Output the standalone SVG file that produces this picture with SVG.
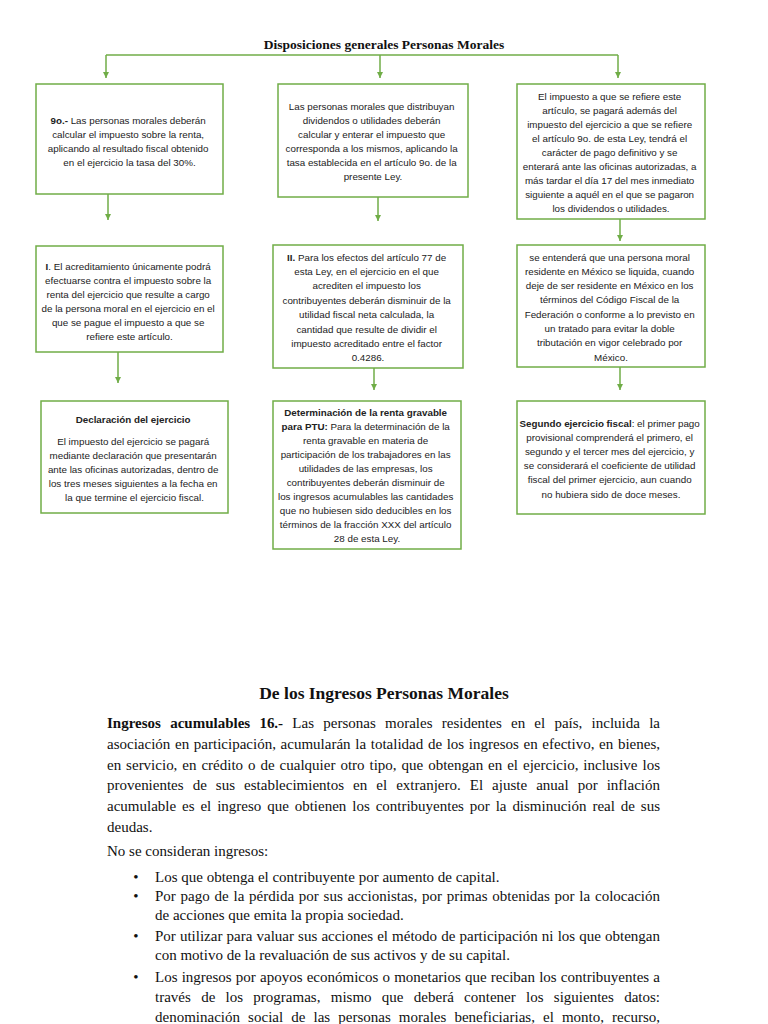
<svg xmlns="http://www.w3.org/2000/svg" width="768" height="1024" viewBox="0 0 768 1024">
<defs>
<style>
.box{fill:#fff;stroke:#70AD47;stroke-width:1.5}
.t{font-family:"Liberation Sans",Arial,sans-serif;font-size:9.8px;fill:#222;text-anchor:middle}
.b{font-weight:bold}
.ln{stroke:#70AD47;stroke-width:1.5;fill:none}
.s{font-family:"Liberation Serif","Times New Roman",serif;fill:#111}
.p{font-size:15px}
</style>
<marker id="ah" markerWidth="6" markerHeight="6" refX="6" refY="3" orient="auto" markerUnits="userSpaceOnUse">
<path d="M0,0 L6,3 L0,6 z" fill="#70AD47"/>
</marker>
</defs>
<rect width="768" height="1024" fill="#fff"/>

<g id="title">
<text class="s b" x="384" y="49" font-size="13.5" text-anchor="middle">Disposiciones generales Personas Morales</text>
</g>

<g id="connectors">
<path class="ln" d="M106,55 H618"/>
<path class="ln" d="M106,55 V78" marker-end="url(#ah)"/>
<path class="ln" d="M380,55 V78" marker-end="url(#ah)"/>
<path class="ln" d="M618,55 V78" marker-end="url(#ah)"/>
<path class="ln" d="M108,194 V220" marker-end="url(#ah)"/>
<path class="ln" d="M378,197 V221" marker-end="url(#ah)"/>
<path class="ln" d="M620,219 V241" marker-end="url(#ah)"/>
<path class="ln" d="M118,352 V383" marker-end="url(#ah)"/>
<path class="ln" d="M374,368 V390" marker-end="url(#ah)"/>
<path class="ln" d="M620,367 V390" marker-end="url(#ah)"/>
</g>

<g id="n1">
<rect class="box" x="36" y="84" width="187" height="110"/>
<text class="t">
<tspan x="129.5" y="123.5"><tspan class="b">9o.-</tspan> Las personas morales deberán</tspan>
<tspan x="129.5" y="137.5">calcular el impuesto sobre la renta,</tspan>
<tspan x="129.5" y="151.5">aplicando al resultado fiscal obtenido</tspan>
<tspan x="129.5" y="165.5">en el ejercicio la tasa del 30%.</tspan>
</text>
</g>

<g id="n2">
<rect class="box" x="278" y="84" width="190" height="113"/>
<text class="t">
<tspan x="373" y="109.5">Las personas morales que distribuyan</tspan>
<tspan x="373" y="123.5">dividendos o utilidades deberán</tspan>
<tspan x="373" y="137.5">calcular y enterar el impuesto que</tspan>
<tspan x="373" y="151.5">corresponda a los mismos, aplicando la</tspan>
<tspan x="373" y="165.5">tasa establecida en el artículo 9o. de la</tspan>
<tspan x="373" y="179.5">presente Ley.</tspan>
</text>
</g>

<g id="n3">
<rect class="box" x="517" y="84" width="188" height="135"/>
<text class="t">
<tspan x="611" y="99.5">El impuesto a que se refiere este</tspan>
<tspan x="611" y="113.5">artículo, se pagará además del</tspan>
<tspan x="611" y="127.5">impuesto del ejercicio a que se refiere</tspan>
<tspan x="611" y="141.5">el artículo 9o. de esta Ley, tendrá el</tspan>
<tspan x="611" y="155.5">carácter de pago definitivo y se</tspan>
<tspan x="611" y="169.5">enterará ante las oficinas autorizadas, a</tspan>
<tspan x="611" y="183.5">más tardar el día 17 del mes inmediato</tspan>
<tspan x="611" y="197.5">siguiente a aquél en el que se pagaron</tspan>
<tspan x="611" y="211.5">los dividendos o utilidades.</tspan>
</text>
</g>

<g id="n4">
<rect class="box" x="36" y="246" width="187" height="106"/>
<text class="t">
<tspan x="129.5" y="269.5"><tspan class="b">I</tspan>. El acreditamiento únicamente podrá</tspan>
<tspan x="129.5" y="283.5">efectuarse contra el impuesto sobre la</tspan>
<tspan x="129.5" y="297.5">renta del ejercicio que resulte a cargo</tspan>
<tspan x="129.5" y="311.5">de la persona moral en el ejercicio en el</tspan>
<tspan x="129.5" y="325.5">que se pague el impuesto a que se</tspan>
<tspan x="129.5" y="339.5">refiere este artículo.</tspan>
</text>
</g>

<g id="n5">
<rect class="box" x="273" y="245" width="190" height="123"/>
<text class="t">
<tspan x="368" y="260.5"><tspan class="b">II.</tspan> Para los efectos del artículo 77 de</tspan>
<tspan x="368" y="274.9">esta Ley, en el ejercicio en el que</tspan>
<tspan x="368" y="289.3">acrediten el impuesto los</tspan>
<tspan x="368" y="303.7">contribuyentes deberán disminuir de la</tspan>
<tspan x="368" y="318.1">utilidad fiscal neta calculada, la</tspan>
<tspan x="368" y="332.5">cantidad que resulte de dividir el</tspan>
<tspan x="368" y="346.9">impuesto acreditado entre el factor</tspan>
<tspan x="368" y="361.3">0.4286.</tspan>
</text>
</g>

<g id="n6">
<rect class="box" x="517" y="245" width="188" height="122"/>
<text class="t">
<tspan x="611" y="260.5">se entenderá que una persona moral</tspan>
<tspan x="611" y="274.8">residente en México se liquida, cuando</tspan>
<tspan x="611" y="289.1">deje de ser residente en México en los</tspan>
<tspan x="611" y="303.4">términos del Código Fiscal de la</tspan>
<tspan x="611" y="317.7">Federación o conforme a lo previsto en</tspan>
<tspan x="611" y="332">un tratado para evitar la doble</tspan>
<tspan x="611" y="346.3">tributación en vigor celebrado por</tspan>
<tspan x="611" y="360.6">México.</tspan>
</text>
</g>

<g id="n7">
<rect class="box" x="41" y="401" width="187" height="112"/>
<text class="t">
<tspan class="b" x="134.5" y="422.5">Declaración del ejercicio</tspan>
<tspan x="134.5" y="444.5">El impuesto del ejercicio se pagará</tspan>
<tspan x="134.5" y="458.5">mediante declaración que presentarán</tspan>
<tspan x="134.5" y="472.5">ante las oficinas autorizadas, dentro de</tspan>
<tspan x="134.5" y="486.5">los tres meses siguientes a la fecha en</tspan>
<tspan x="134.5" y="500.5">la que termine el ejercicio fiscal.</tspan>
</text>
</g>

<g id="n8">
<rect class="box" x="273" y="401" width="188" height="148"/>
<text class="t">
<tspan class="b" x="367" y="415.5">Determinación de la renta gravable</tspan>
<tspan x="367" y="429.6"><tspan class="b">para PTU:</tspan> Para la determinación de la</tspan>
<tspan x="367" y="443.7">renta gravable en materia de</tspan>
<tspan x="367" y="457.8">participación de los trabajadores en las</tspan>
<tspan x="367" y="471.9">utilidades de las empresas, los</tspan>
<tspan x="367" y="486">contribuyentes deberán disminuir de</tspan>
<tspan x="367" y="500.1">los ingresos acumulables las cantidades</tspan>
<tspan x="367" y="514.2">que no hubiesen sido deducibles en los</tspan>
<tspan x="367" y="528.3">términos de la fracción XXX del artículo</tspan>
<tspan x="367" y="542.4">28 de esta Ley.</tspan>
</text>
</g>

<g id="n9">
<rect class="box" x="517" y="401" width="188" height="113"/>
<text class="t">
<tspan x="611" y="426.5"><tspan class="b">Segundo ejercicio fiscal</tspan>: el primer pago</tspan>
<tspan x="611" y="440.7">provisional comprenderá el primero, el</tspan>
<tspan x="611" y="454.9">segundo y el tercer mes del ejercicio, y</tspan>
<tspan x="611" y="469.1">se considerará el coeficiente de utilidad</tspan>
<tspan x="611" y="483.3">fiscal del primer ejercicio, aun cuando</tspan>
<tspan x="611" y="497.5">no hubiera sido de doce meses.</tspan>
</text>
</g>

<g id="ingresos">
<text class="s b" x="384" y="699" font-size="17.5" text-anchor="middle">De los Ingresos Personas Morales</text>
<text class="s p" x="107" y="728" word-spacing="5.5" textLength="553" lengthAdjust="spacing"><tspan class="b">Ingresos acumulables 16.-</tspan> Las personas morales residentes en el país, incluida la</text>
<text class="s p" x="107" y="748.8" word-spacing="0.9" textLength="553" lengthAdjust="spacing">asociación en participación, acumularán la totalidad de los ingresos en efectivo, en bienes,</text>
<text class="s p" x="107" y="769.6" word-spacing="1.2" textLength="553" lengthAdjust="spacing">en servicio, en crédito o de cualquier otro tipo, que obtengan en el ejercicio, inclusive los</text>
<text class="s p" x="107" y="790.4" word-spacing="5.3" textLength="553" lengthAdjust="spacing">provenientes de sus establecimientos en el extranjero. El ajuste anual por inflación</text>
<text class="s p" x="107" y="811.2" word-spacing="2.15" textLength="553" lengthAdjust="spacing">acumulable es el ingreso que obtienen los contribuyentes por la disminución real de sus</text>
<text class="s p" x="107" y="832">deudas.</text>
<text class="s p" x="107" y="856">No se consideran ingresos:</text>

<text class="s p" x="136" y="882" text-anchor="middle">•</text>
<text class="s p" x="155" y="882">Los que obtenga el contribuyente por aumento de capital.</text>
<text class="s p" x="136" y="901" text-anchor="middle">•</text>
<text class="s p" x="155" y="901" word-spacing="1" textLength="505" lengthAdjust="spacing">Por pago de la pérdida por sus accionistas, por primas obtenidas por la colocación</text>
<text class="s p" x="155" y="920">de acciones que emita la propia sociedad.</text>
<text class="s p" x="136" y="941" text-anchor="middle">•</text>
<text class="s p" x="155" y="941" word-spacing="0.4" textLength="505" lengthAdjust="spacing">Por utilizar para valuar sus acciones el método de participación ni los que obtengan</text>
<text class="s p" x="155" y="960">con motivo de la revaluación de sus activos y de su capital.</text>
<text class="s p" x="136" y="982" text-anchor="middle">•</text>
<text class="s p" x="155" y="982" word-spacing="0.45" textLength="505" lengthAdjust="spacing">Los ingresos por apoyos económicos o monetarios que reciban los contribuyentes a</text>
<text class="s p" x="155" y="1002" word-spacing="6.5" textLength="505" lengthAdjust="spacing">través de los programas, mismo que deberá contener los siguientes datos:</text>
<text class="s p" x="155" y="1022" word-spacing="4.3" textLength="505" lengthAdjust="spacing">denominación social de las personas morales beneficiarias, el monto, recurso,</text>
</g>
</svg>
